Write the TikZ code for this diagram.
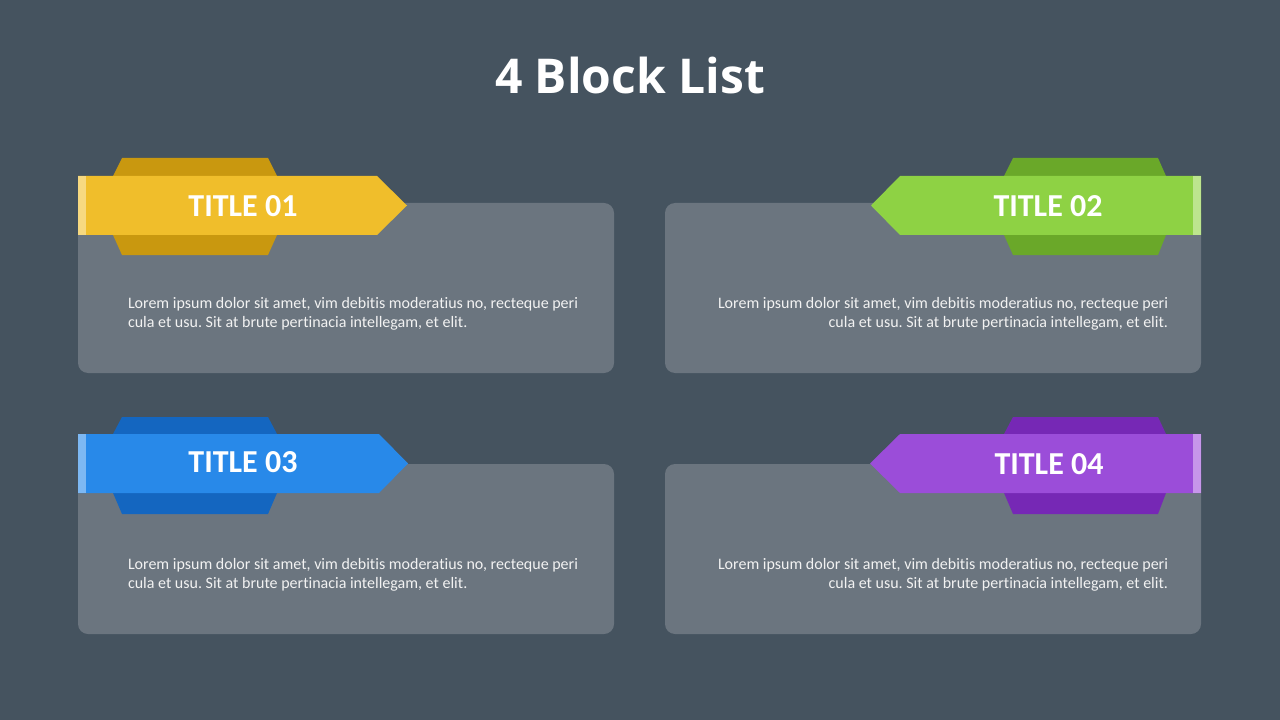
\documentclass[tikz,border=0pt]{standalone}
\usepackage{fontspec}
\setmainfont{Carlito}[Ligatures=NoCommon]
\newfontfamily\headfont{Open Sans}
\frenchspacing
\definecolor{bgc}{HTML}{45535F}
\definecolor{boxc}{HTML}{6B757F}
\definecolor{yelA}{HTML}{F0BE2B}
\definecolor{yelB}{HTML}{C9980F}
\definecolor{yelC}{HTML}{F7D980}
\definecolor{grnA}{HTML}{8ED244}
\definecolor{grnB}{HTML}{6AA829}
\definecolor{grnC}{HTML}{BDE58E}
\definecolor{bluA}{HTML}{2889E9}
\definecolor{bluB}{HTML}{1466C0}
\definecolor{bluC}{HTML}{7DB8F3}
\definecolor{purA}{HTML}{9B4DD9}
\definecolor{purB}{HTML}{7628B5}
\definecolor{purC}{HTML}{C796EA}
\definecolor{txtc}{HTML}{F2F2F2}
\tikzset{
  cardbox/.style={fill=boxc, rounded corners=7.5pt},
  ttl/.style={text=white, font=\bfseries\fontsize{24}{28}\selectfont, inner sep=0pt},
  body/.style={text=txtc, font=\fontsize{12}{14.4}\selectfont, inner sep=0pt, align=left},
}
\newcommand{\lineone}{Lorem ipsum dolor sit amet, vim debitis moderatius no, recteque peri}
\newcommand{\linetwo}{cula et usu. Sit at brute pertinacia intellegam, et elit.}
\newcommand{\bodyleft}{\parbox{337.5pt}{\frenchspacing\makebox[\linewidth][s]{\lineone}\\\makebox[\linewidth][l]{\linetwo}}}
\newcommand{\bodyright}{\parbox{337.5pt}{\frenchspacing\makebox[\linewidth][s]{\lineone}\\\makebox[\linewidth][r]{\linetwo}}}
\begin{document}
\begin{tikzpicture}[x=0.75pt, y=-0.75pt]
\useasboundingbox (0,0) rectangle (1280,720);
\fill[bgc] (0,0) rectangle (1280,720);
\node[text=white, font=\headfont\bfseries\fontsize{36}{42}\selectfont, inner sep=0pt] (head) at (630,76) {4 Block List};

% cards
\fill[cardbox] (78,203) rectangle (614,373);
\fill[cardbox] (665,203) rectangle (1201,373);
\fill[cardbox] (78,464) rectangle (614,634);
\fill[cardbox] (665,464) rectangle (1201,634);

% block 1
\fill[yelB] (122,158) -- (268,158) -- (277,176) -- (277,235) -- (268,255) -- (122,255) -- (113,235) -- (113,176) -- cycle;
\fill[yelA] (78,176) -- (377,176) -- (407,205.5) -- (377,235) -- (78,235) -- cycle;
\fill[yelC] (78,176) rectangle (86,235);
\node[ttl] (t1) at (243,206) {TITLE 01};

% block 2
\fill[grnB] (1013,158) -- (1158,158) -- (1166,176) -- (1166,235) -- (1158,255) -- (1013,255) -- (1004,235) -- (1004,176) -- cycle;
\fill[grnA] (1201,176) -- (900,176) -- (871,205.5) -- (900,235) -- (1201,235) -- cycle;
\fill[grnC] (1193,176) rectangle (1201,235);
\node[ttl] (t2) at (1048,206) {TITLE 02};

% block 3
\fill[bluB] (122,417) -- (268,417) -- (277,434) -- (277,493) -- (268,514) -- (122,514) -- (113,493) -- (113,434) -- cycle;
\fill[bluA] (78,434) -- (379,434) -- (408,463.5) -- (379,493) -- (78,493) -- cycle;
\fill[bluC] (78,434) rectangle (86,493);
\node[ttl] (t3) at (243,462) {TITLE 03};

% block 4
\fill[purB] (1013,417) -- (1158,417) -- (1166,434) -- (1166,493) -- (1158,514) -- (1013,514) -- (1004,493) -- (1004,434) -- cycle;
\fill[purA] (1201,434) -- (900,434) -- (870,463.5) -- (900,493) -- (1201,493) -- cycle;
\fill[purC] (1193,434) rectangle (1201,493);
\node[ttl] (t4) at (1049,464) {TITLE 04};

% body texts
\node[body] (b1) at (353,313.5) {\bodyleft};
\node[body] (b2) at (943,313.5) {\bodyright};
\node[body] (b3) at (353,574.5) {\bodyleft};
\node[body] (b4) at (943,574.5) {\bodyright};
\end{tikzpicture}
\end{document}
